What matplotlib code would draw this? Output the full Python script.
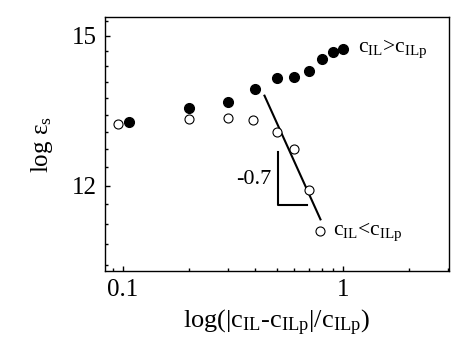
import numpy as np
import matplotlib
matplotlib.use("Agg")
import matplotlib.pyplot as plt
from matplotlib.ticker import FixedLocator, FixedFormatter, NullFormatter

plt.rcParams["font.family"] = ["Liberation Serif", "DejaVu Serif"]
plt.rcParams["mathtext.fontset"] = "custom"
plt.rcParams["mathtext.rm"] = "Liberation Serif"
plt.rcParams["mathtext.it"] = "Liberation Serif:italic"

# c_IL > c_ILp (filled)
x_above = [0.107, 0.2, 0.3, 0.4, 0.5, 0.6, 0.7, 0.8, 0.9, 1.0]
y_above = [13.20, 13.48, 13.59, 13.86, 14.08, 14.10, 14.23, 14.48, 14.65, 14.70]
# c_IL < c_ILp (open)
x_below = [0.095, 0.2, 0.3, 0.39, 0.5, 0.6, 0.7, 0.79]
y_below = [13.15, 13.25, 13.28, 13.24, 12.99, 12.68, 11.92, 11.21]

# slope line and slope triangle
fit_x = [0.44, 0.79]
fit_y = [13.72, 11.41]
tri_x = [0.508, 0.508, 0.684]
tri_y = [12.62, 11.65, 11.65]

fig = plt.figure(figsize=(4.74, 3.58), dpi=100)
ax = fig.add_axes([0.2215, 0.2439, 0.7258, 0.7078])

ax.plot(x_above, y_above, "o", color="black", markersize=7, zorder=3)
ax.plot(x_below, y_below, "o", mfc="white", mec="black", markersize=6.5,
        mew=0.8, zorder=3)
ax.plot(fit_x, fit_y, "-", color="black", lw=1.5)
ax.plot(tri_x, tri_y, "-", color="black", lw=1.5)

ax.text(0.475, 12.1, "-0.7", fontsize=16, ha="right", va="center")
ax.text(1.17, 14.72, r"c$_{\mathrm{IL}}$>c$_{\mathrm{ILp}}$", fontsize=15.5,
        ha="left", va="center")
ax.text(0.9, 11.2, r"c$_{\mathrm{IL}}$<c$_{\mathrm{ILp}}$", fontsize=15.5,
        ha="left", va="center")

ax.set_xscale("log")
ax.set_yscale("log")
ax.set_xlim(0.083, 3.03)
ax.set_ylim(10.57, 15.42)

ax.yaxis.set_major_locator(FixedLocator([12, 15]))
ax.yaxis.set_minor_locator(FixedLocator(np.arange(10.0, 15.5, 1 / 3)))
ax.yaxis.set_major_formatter(FixedFormatter(["12", "15"]))
ax.yaxis.set_minor_formatter(NullFormatter())
ax.xaxis.set_major_locator(FixedLocator([0.1, 1]))
ax.xaxis.set_major_formatter(FixedFormatter(["0.1", "1"]))

ax.tick_params(which="both", direction="in", labelsize=18, width=1)
ax.tick_params(which="major", length=3.6, pad=6)
ax.tick_params(which="minor", length=2.2)
for s in ax.spines.values():
    s.set_linewidth(1)

ax.set_xlabel(r"log(|c$_{\mathrm{IL}}$-c$_{\mathrm{ILp}}$|/c$_{\mathrm{ILp}}$)",
              fontsize=19, labelpad=5)
ax.set_ylabel(r"log $\mathrm{\epsilon}_{\mathrm{s}}$", fontsize=18, labelpad=12)

fig.savefig("out.png", dpi=100)
